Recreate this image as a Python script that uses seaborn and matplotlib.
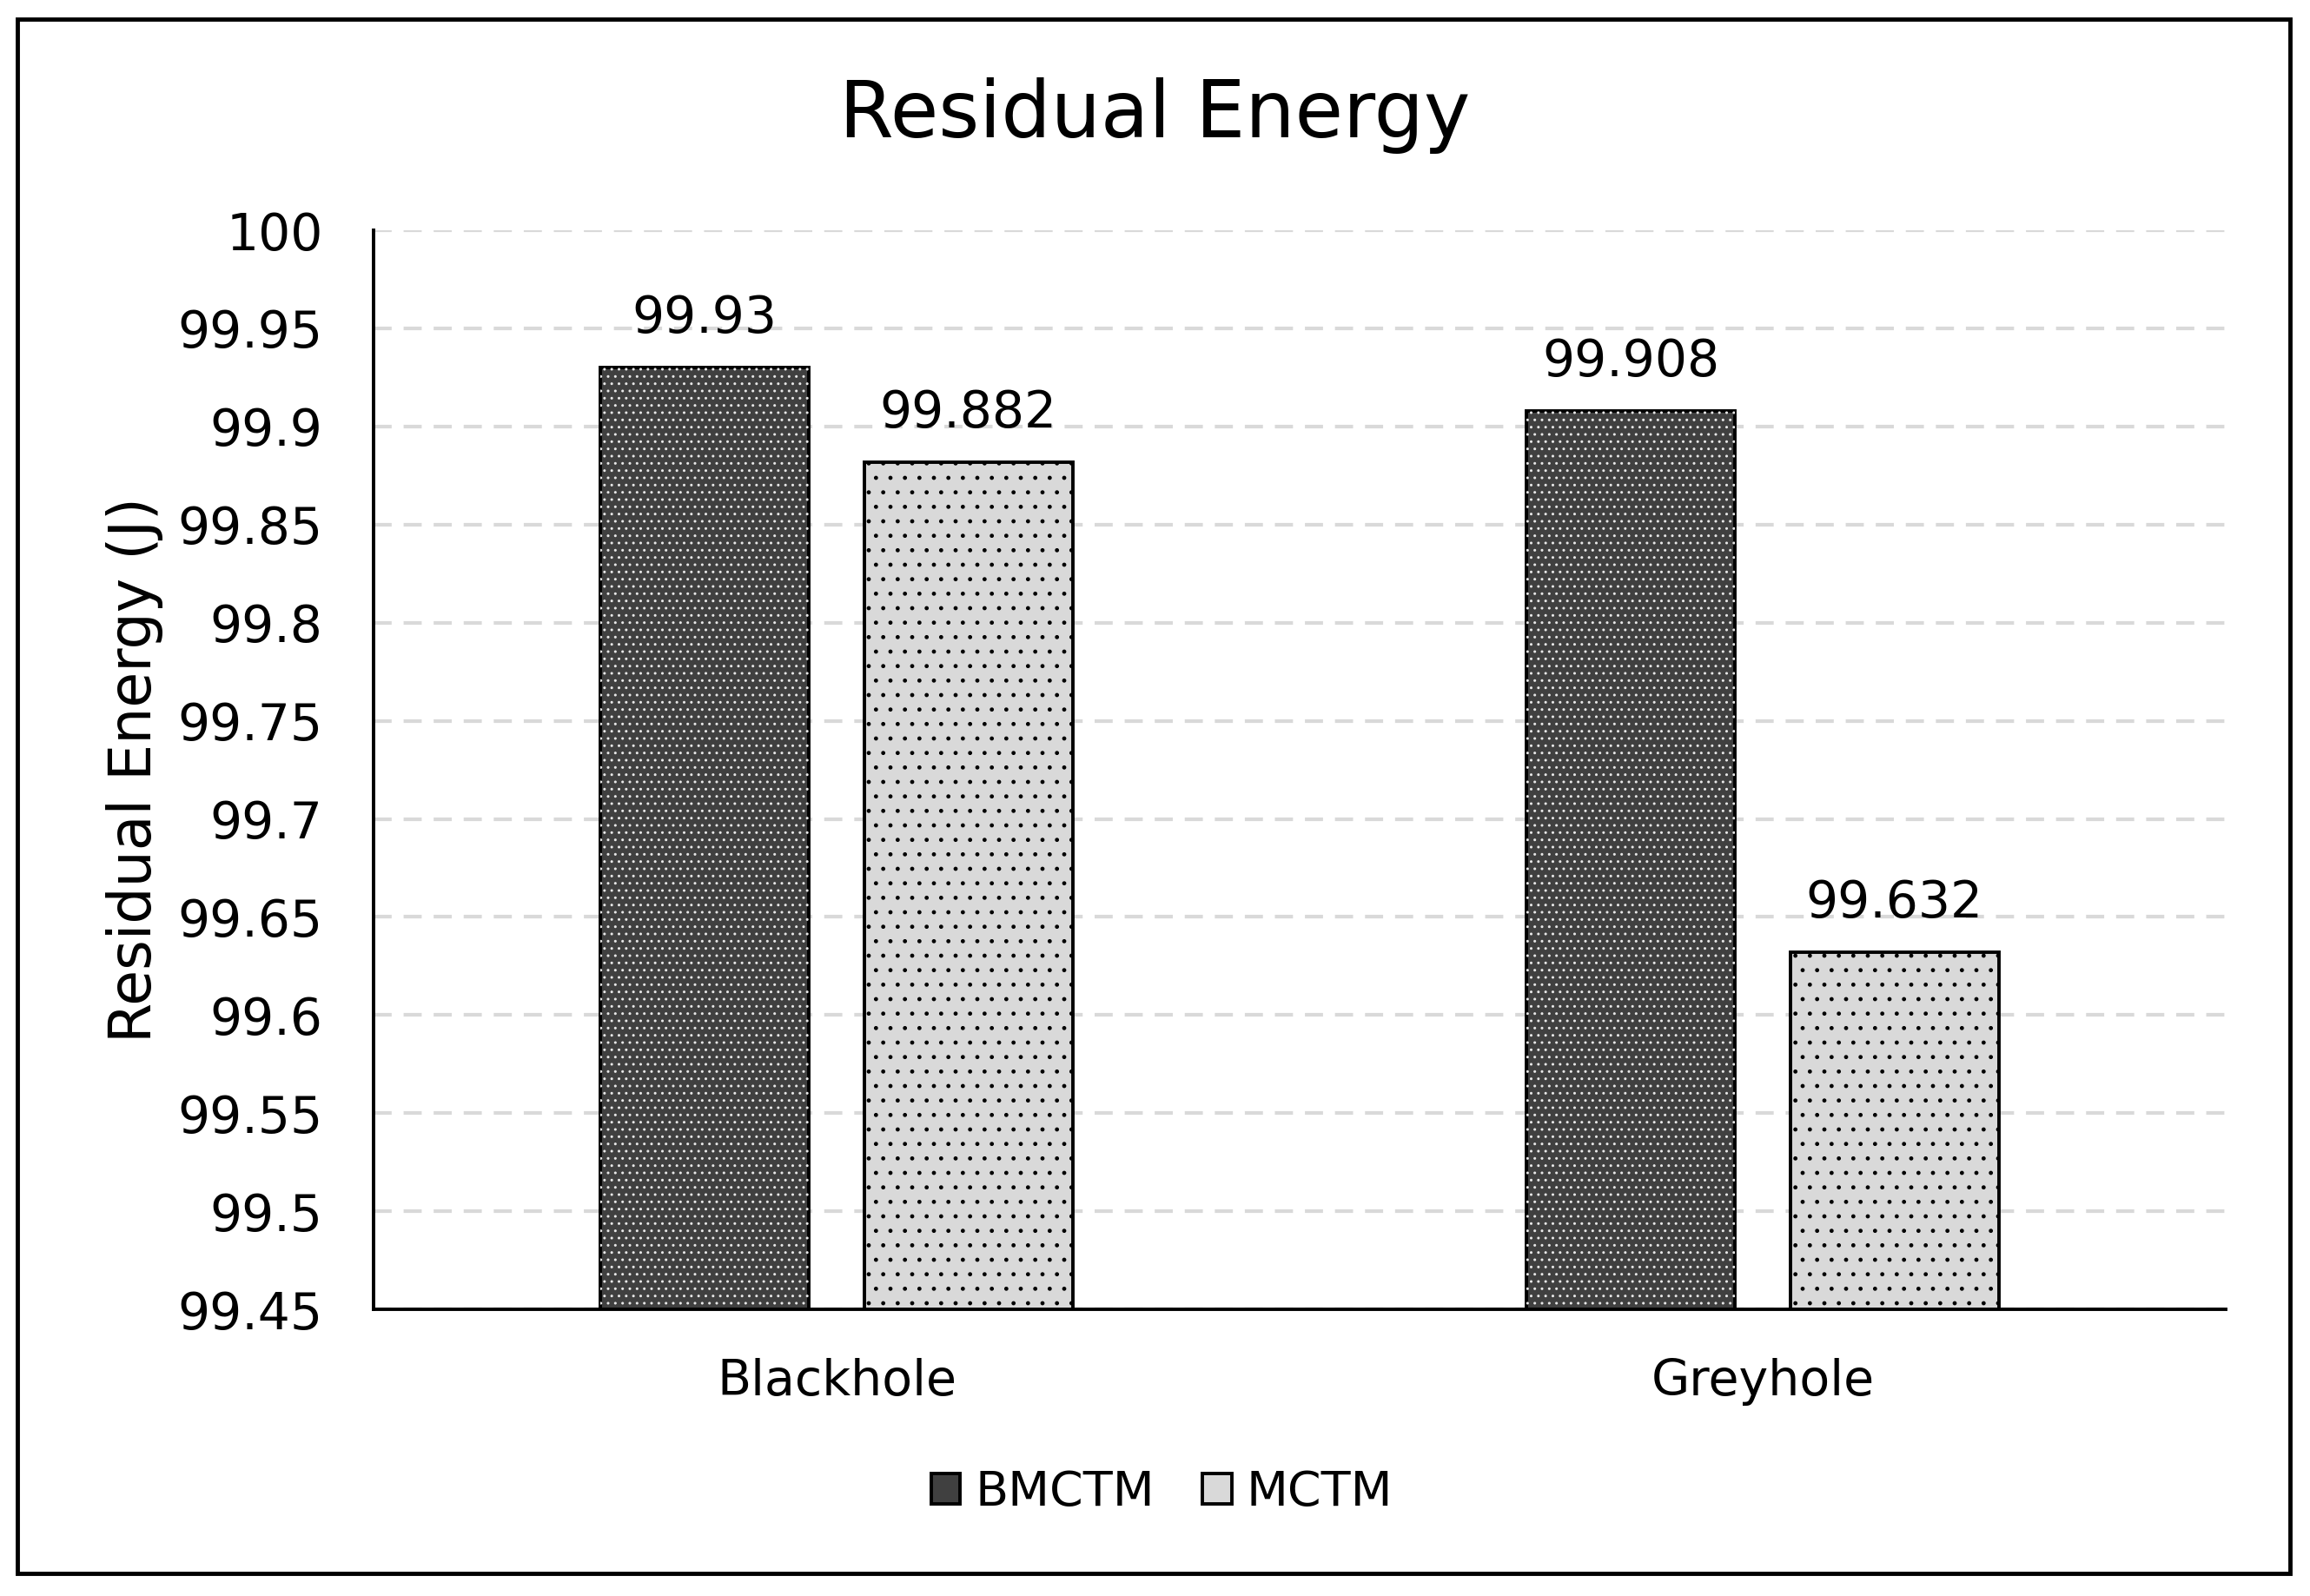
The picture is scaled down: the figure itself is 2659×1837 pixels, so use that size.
import pandas as pd
import matplotlib.pyplot as plt
import seaborn as sns
from matplotlib.patches import Rectangle

# chart data
categories = ['Blackhole', 'Greyhole']
series = ['BMCTM', 'MCTM']
bmctm_values = [99.93, 99.908]
mctm_values = [99.882, 99.632]
y_ticks = [99.45, 99.5, 99.55, 99.6, 99.65, 99.7, 99.75, 99.8, 99.85, 99.9, 99.95, 100]

df = pd.DataFrame({
    'Attack': categories * 2,
    'Method': [series[0]] * len(categories) + [series[1]] * len(categories),
    'Energy': bmctm_values + mctm_values,
})

sns.set_style('white')
plt.rcParams['font.family'] = ['DejaVu Sans']
plt.rcParams['text.color'] = 'black'
plt.rcParams['axes.labelcolor'] = 'black'
plt.rcParams['hatch.linewidth'] = 1.0

fig = plt.figure(figsize=(26.59, 18.37), dpi=100)
ax = fig.add_axes([0.1617, 0.1796, 0.9635 - 0.1617, 0.8557 - 0.1796])

colors = {'BMCTM': '#404040', 'MCTM': '#d9d9d9'}
sns.barplot(data=df, x='Attack', y='Energy', hue='Method', palette=colors,
            width=0.57, gap=0.21, edgecolor='black', linewidth=2.8,
            saturation=1, ax=ax)

# dotted pattern on top of the bars
hatch_style = {'BMCTM': ('#e8e8e8', '..'), 'MCTM': ('black', '.')}
for cont, name in zip(ax.containers, series):
    col, h = hatch_style[name]
    for p in cont.patches:
        ax.add_patch(Rectangle(p.get_xy(), p.get_width(), p.get_height(),
                               facecolor='none', edgecolor=col, lw=0, hatch=h,
                               zorder=p.get_zorder() + 0.1))
    ax.bar_label(cont, fmt='%g', padding=20, fontsize=42, color='black')

ax.set_ylim(99.45, 100)
ax.set_yticks(y_ticks)
ax.set_yticklabels([f'{v:g}' for v in y_ticks])
ax.tick_params(axis='y', length=0, pad=42, labelsize=42, colors='black')
ax.tick_params(axis='x', length=0, pad=40, labelsize=41, colors='black')

ax.yaxis.grid(True, color='#d9d9d9', linewidth=3, linestyle=(0, (5, 3.3)))
ax.set_axisbelow(True)
for s in ['top', 'right']:
    ax.spines[s].set_visible(False)
for s in ['left', 'bottom']:
    ax.spines[s].set_color('black')
    ax.spines[s].set_linewidth(2.8)

ax.set_xlabel('')
ax.set_ylabel('Residual Energy (J)', fontsize=48, color='black')
ax.yaxis.set_label_coords(-0.1135, 0.5)

fig.suptitle('Residual Energy', fontsize=65, x=0.5, y=0.9276, va='center', color='black')

handles, labels = ax.get_legend_handles_labels()
ax.get_legend().remove()
fig.legend(handles, labels, loc='center', bbox_to_anchor=(0.503, 0.0648), ncol=2,
           frameon=False, fontsize=40, handlelength=0.6, handleheight=0.6,
           handletextpad=0.3, columnspacing=1.0, labelcolor='black')

# outer frame
fig.patches.append(Rectangle((0.0075, 0.0142), 0.9838, 0.9738, transform=fig.transFigure,
                             fill=False, edgecolor='black', linewidth=3.5))

fig.savefig('out.png', dpi=100)
